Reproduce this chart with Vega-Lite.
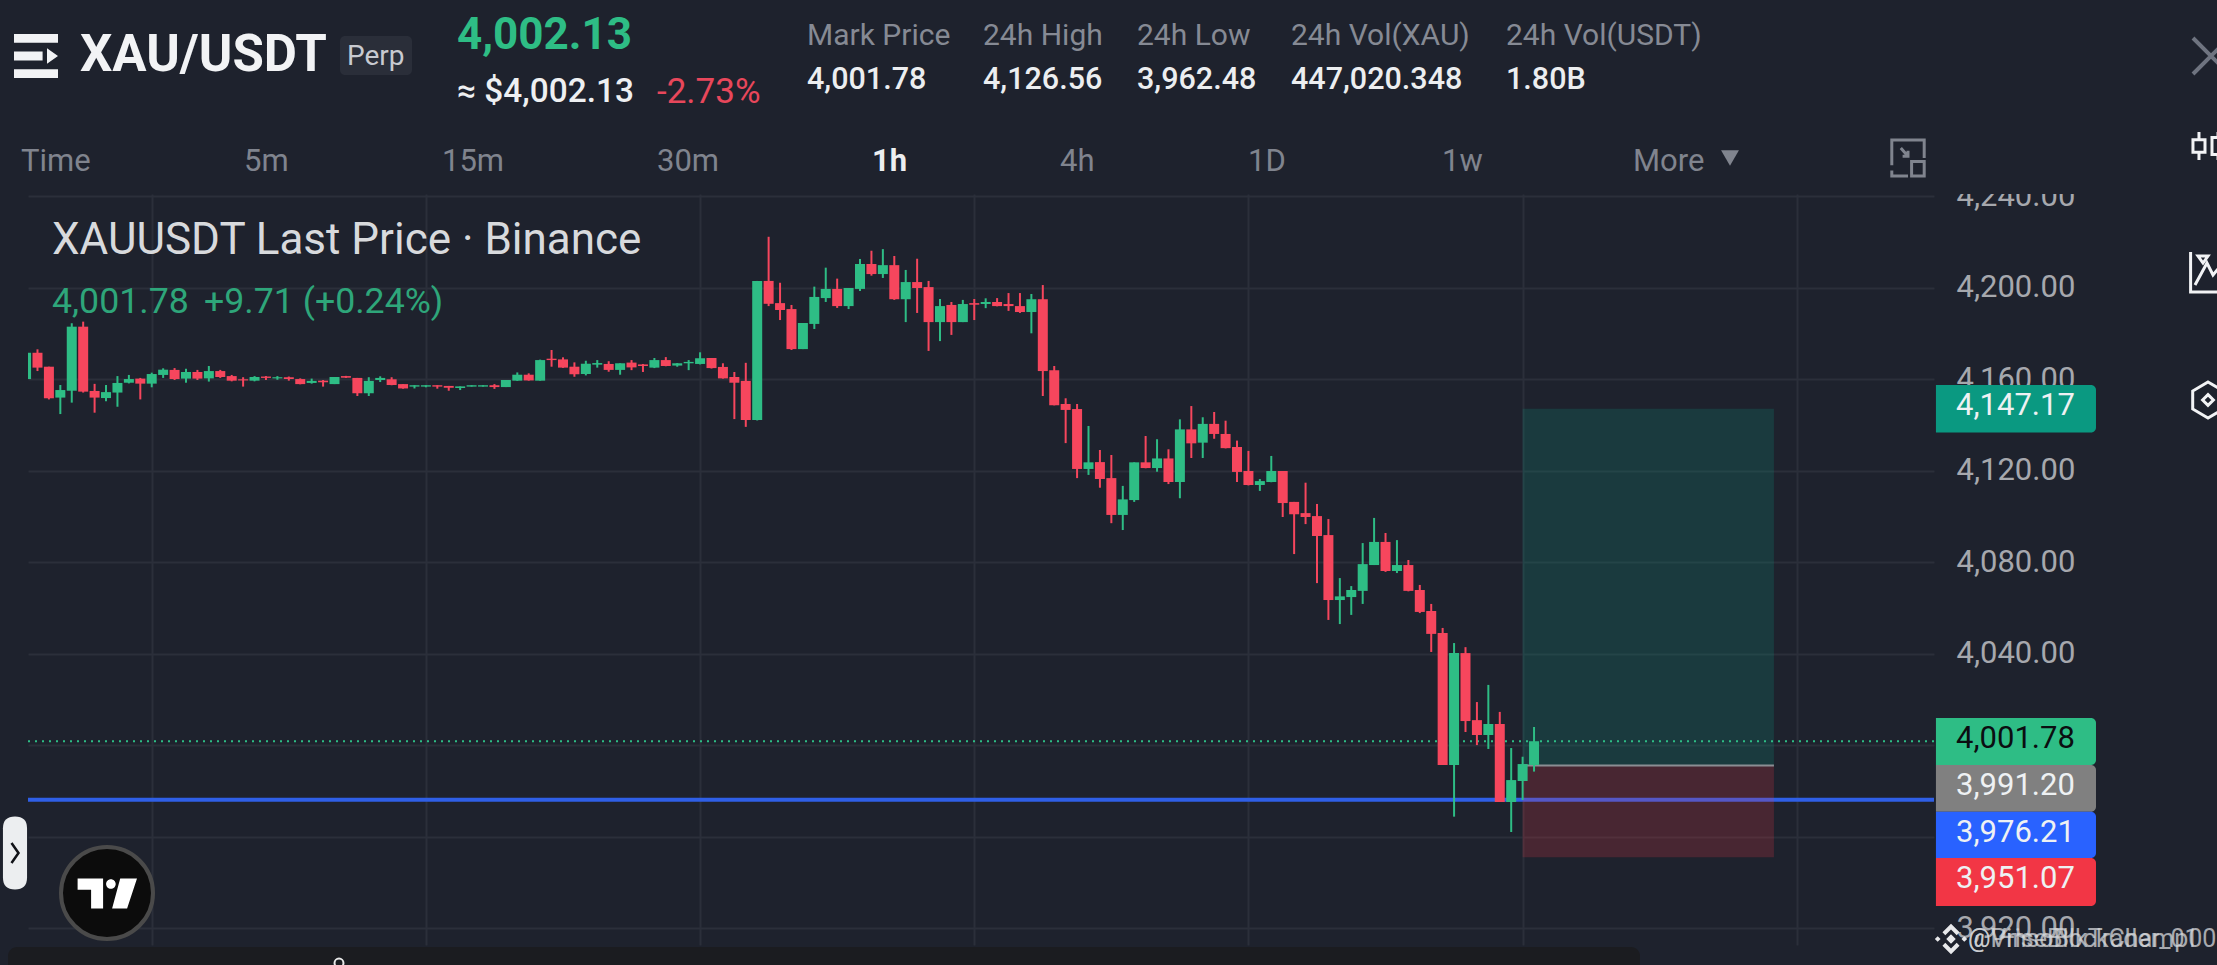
{
  "$schema": "https://vega.github.io/schema/vega-lite/v6.json",
  "autosize": {"type": "none"},
  "width": 1906,
  "height": 751,
  "padding": {"left": 28, "top": 194, "right": 283, "bottom": 20},
  "background": "#1e222d",
  "config": {"view": {"stroke": null}, "font": "Roboto", "text": {"font": "Roboto"}},
  "datasets": {
    "candles": [
      {"bar":-11,"open":4160.1,"high":4171.6,"low":4160.1,"close":4171.6},
      {"bar":-10,"open":4171.6,"high":4173.1,"low":4163.6,"close":4165.1},
      {"bar":-9,"open":4165.5,"high":4165.5,"low":4151.2,"close":4151.7},
      {"bar":-8,"open":4152,"high":4157.5,"low":4144.8,"close":4155.3},
      {"bar":-7,"open":4155,"high":4184.5,"low":4149.8,"close":4183},
      {"bar":-6,"open":4183,"high":4185.2,"low":4154.2,"close":4154.6},
      {"bar":-5,"open":4154.9,"high":4158,"low":4145.4,"close":4152},
      {"bar":-4,"open":4151.8,"high":4157.5,"low":4150.4,"close":4154.4},
      {"bar":-3,"open":4154.2,"high":4161.4,"low":4148,"close":4158.4},
      {"bar":-2,"open":4158.5,"high":4161.9,"low":4158.2,"close":4160.1},
      {"bar":-1,"open":4160.3,"high":4160.6,"low":4151.2,"close":4158.1},
      {"bar":0,"open":4158.1,"high":4162.9,"low":4156.5,"close":4162.3},
      {"bar":1,"open":4161.9,"high":4164.8,"low":4160.6,"close":4164.2},
      {"bar":2,"open":4164.1,"high":4164.9,"low":4159.7,"close":4160.1},
      {"bar":3,"open":4160.3,"high":4164.6,"low":4158.5,"close":4163.2},
      {"bar":4,"open":4163.2,"high":4164.1,"low":4159.7,"close":4160.3},
      {"bar":5,"open":4160.4,"high":4165.8,"low":4159,"close":4163.6},
      {"bar":6,"open":4163.6,"high":4164.1,"low":4160.6,"close":4161},
      {"bar":7,"open":4161.4,"high":4161.9,"low":4159.1,"close":4159.4},
      {"bar":8,"open":4160,"high":4160.9,"low":4156.8,"close":4159.5},
      {"bar":9,"open":4159.4,"high":4161.4,"low":4159.1,"close":4161},
      {"bar":10,"open":4161.2,"high":4161.4,"low":4159.7,"close":4160.6},
      {"bar":11,"open":4160.4,"high":4161.4,"low":4159.8,"close":4160.9},
      {"bar":12,"open":4160.9,"high":4161.2,"low":4159.4,"close":4160.1},
      {"bar":13,"open":4160.1,"high":4160.4,"low":4157.8,"close":4157.9},
      {"bar":14,"open":4158.4,"high":4160.3,"low":4158.1,"close":4159.3},
      {"bar":15,"open":4159.4,"high":4159.7,"low":4156.8,"close":4158.7},
      {"bar":16,"open":4157.9,"high":4161,"low":4157.9,"close":4161},
      {"bar":17,"open":4161.4,"high":4161.5,"low":4160.6,"close":4160.7},
      {"bar":18,"open":4160.6,"high":4160.6,"low":4152.7,"close":4153.9},
      {"bar":19,"open":4153.9,"high":4160.9,"low":4152.7,"close":4159.3},
      {"bar":20,"open":4159.7,"high":4161.3,"low":4158.8,"close":4160.6},
      {"bar":21,"open":4160,"high":4160.9,"low":4157.4,"close":4157.5},
      {"bar":22,"open":4157.9,"high":4157.9,"low":4155.9,"close":4156},
      {"bar":23,"open":4156.8,"high":4157.4,"low":4156,"close":4157.4},
      {"bar":24,"open":4156.8,"high":4157.4,"low":4156.5,"close":4157.4},
      {"bar":25,"open":4157.4,"high":4157.4,"low":4155.9,"close":4156.8},
      {"bar":26,"open":4157.1,"high":4157.1,"low":4155,"close":4156.3},
      {"bar":27,"open":4156.2,"high":4156.9,"low":4155.3,"close":4156.9},
      {"bar":28,"open":4156.8,"high":4157.4,"low":4156.8,"close":4157.4},
      {"bar":29,"open":4156.8,"high":4157.4,"low":4156.8,"close":4157.4},
      {"bar":30,"open":4157.4,"high":4157.9,"low":4155.8,"close":4156.6},
      {"bar":31,"open":4156.6,"high":4159.7,"low":4156.6,"close":4159.7},
      {"bar":32,"open":4159.4,"high":4163,"low":4159.3,"close":4162},
      {"bar":33,"open":4162,"high":4162.6,"low":4159.4,"close":4159.5},
      {"bar":34,"open":4159.4,"high":4168.6,"low":4159.4,"close":4168.4},
      {"bar":35,"open":4169,"high":4172.8,"low":4165.5,"close":4168.4},
      {"bar":36,"open":4168.7,"high":4169.6,"low":4165,"close":4165.1},
      {"bar":37,"open":4165.5,"high":4167.4,"low":4161.1,"close":4162.2},
      {"bar":38,"open":4162.3,"high":4168.1,"low":4161.7,"close":4166.8},
      {"bar":39,"open":4166.4,"high":4168.4,"low":4165.1,"close":4167.1},
      {"bar":40,"open":4166.7,"high":4167.9,"low":4163.3,"close":4164.1},
      {"bar":41,"open":4164.1,"high":4167,"low":4162,"close":4167},
      {"bar":42,"open":4167.3,"high":4168.4,"low":4164,"close":4165.2},
      {"bar":43,"open":4166.5,"high":4166.7,"low":4163.2,"close":4165.8},
      {"bar":44,"open":4165.1,"high":4169.3,"low":4164.9,"close":4168.4},
      {"bar":45,"open":4168.4,"high":4169.7,"low":4165.7,"close":4165.8},
      {"bar":46,"open":4166,"high":4167.1,"low":4165.5,"close":4167},
      {"bar":47,"open":4167,"high":4168.4,"low":4164,"close":4167.6},
      {"bar":48,"open":4166.7,"high":4171.8,"low":4166.5,"close":4169.2},
      {"bar":49,"open":4169.3,"high":4169.3,"low":4164.7,"close":4164.9},
      {"bar":50,"open":4165.4,"high":4167,"low":4160.3,"close":4160.4},
      {"bar":51,"open":4161,"high":4163.2,"low":4142.6,"close":4158.5},
      {"bar":52,"open":4159.3,"high":4167.2,"low":4139.2,"close":4142.2},
      {"bar":53,"open":4142.2,"high":4203,"low":4142,"close":4203},
      {"bar":54,"open":4203,"high":4222.3,"low":4192,"close":4193},
      {"bar":55,"open":4193.3,"high":4202.2,"low":4185.9,"close":4190.3},
      {"bar":56,"open":4190.7,"high":4192.5,"low":4172.8,"close":4173.2},
      {"bar":57,"open":4173.2,"high":4184.6,"low":4173.2,"close":4184.6},
      {"bar":58,"open":4184.2,"high":4200.5,"low":4182,"close":4196},
      {"bar":59,"open":4195.5,"high":4208.8,"low":4193.8,"close":4199.5},
      {"bar":60,"open":4199.5,"high":4204,"low":4191.2,"close":4192},
      {"bar":61,"open":4192,"high":4199.9,"low":4190.7,"close":4199.9},
      {"bar":62,"open":4199.5,"high":4212.6,"low":4198.6,"close":4210.4},
      {"bar":63,"open":4210.4,"high":4216.2,"low":4205.3,"close":4206},
      {"bar":64,"open":4206,"high":4216.9,"low":4204.3,"close":4209.9},
      {"bar":65,"open":4209.9,"high":4213.9,"low":4194.7,"close":4195},
      {"bar":66,"open":4195,"high":4207.8,"low":4185,"close":4202.5},
      {"bar":67,"open":4202.5,"high":4212.7,"low":4189,"close":4199.9},
      {"bar":68,"open":4200.3,"high":4203,"low":4172.4,"close":4185},
      {"bar":69,"open":4185,"high":4195.1,"low":4176.7,"close":4192},
      {"bar":70,"open":4192.5,"high":4193.8,"low":4179.4,"close":4185},
      {"bar":71,"open":4185,"high":4194.7,"low":4185,"close":4192.9},
      {"bar":72,"open":4193.3,"high":4195.1,"low":4185.9,"close":4192.6},
      {"bar":73,"open":4192.9,"high":4195.4,"low":4191.1,"close":4193.8},
      {"bar":74,"open":4193.8,"high":4195.5,"low":4191.9,"close":4192},
      {"bar":75,"open":4192.9,"high":4197.7,"low":4189.9,"close":4192},
      {"bar":76,"open":4192,"high":4197.7,"low":4189,"close":4189.4},
      {"bar":77,"open":4189.4,"high":4197.3,"low":4180.1,"close":4195},
      {"bar":78,"open":4195,"high":4201.2,"low":4152.7,"close":4163.6},
      {"bar":79,"open":4164,"high":4165.8,"low":4148.6,"close":4148.7},
      {"bar":80,"open":4149.2,"high":4151.7,"low":4132.1,"close":4146.6},
      {"bar":81,"open":4147,"high":4149.2,"low":4116.8,"close":4120.8},
      {"bar":82,"open":4120.8,"high":4139.6,"low":4118.2,"close":4123.7},
      {"bar":83,"open":4123.8,"high":4129.1,"low":4112.6,"close":4116.4},
      {"bar":84,"open":4116.8,"high":4126.9,"low":4097.1,"close":4100.7},
      {"bar":85,"open":4100.7,"high":4113.4,"low":4094.1,"close":4107.5},
      {"bar":86,"open":4107.2,"high":4123.7,"low":4106.4,"close":4123.7},
      {"bar":87,"open":4123.7,"high":4135.2,"low":4121.1,"close":4121.2},
      {"bar":88,"open":4121.2,"high":4133.8,"low":4119.6,"close":4125.4},
      {"bar":89,"open":4125.4,"high":4129.4,"low":4114.2,"close":4115.1},
      {"bar":90,"open":4115.1,"high":4142.5,"low":4108,"close":4138.1},
      {"bar":91,"open":4138.1,"high":4148.3,"low":4125.6,"close":4132},
      {"bar":92,"open":4132.3,"high":4143.4,"low":4125.6,"close":4140.5},
      {"bar":93,"open":4140.5,"high":4145.7,"low":4134,"close":4136.1},
      {"bar":94,"open":4136.1,"high":4141.9,"low":4129.8,"close":4129.9},
      {"bar":95,"open":4130.4,"high":4133.2,"low":4115.1,"close":4119.5},
      {"bar":96,"open":4119.9,"high":4128.7,"low":4113.6,"close":4113.8},
      {"bar":97,"open":4113.8,"high":4116.4,"low":4111.2,"close":4115.5},
      {"bar":98,"open":4115.1,"high":4126.5,"low":4115,"close":4119.9},
      {"bar":99,"open":4119.9,"high":4119.9,"low":4099.8,"close":4105.9},
      {"bar":100,"open":4106.4,"high":4106.4,"low":4083.6,"close":4101},
      {"bar":101,"open":4101.5,"high":4114.8,"low":4096.7,"close":4099.8},
      {"bar":102,"open":4100.2,"high":4105.5,"low":4070.9,"close":4091.5},
      {"bar":103,"open":4091.9,"high":4098.9,"low":4054.8,"close":4063.5},
      {"bar":104,"open":4063.5,"high":4073.1,"low":4053,"close":4065.1},
      {"bar":105,"open":4064.8,"high":4069.6,"low":4057,"close":4067.9},
      {"bar":106,"open":4067.5,"high":4088.4,"low":4061.8,"close":4079.2},
      {"bar":107,"open":4078.8,"high":4099.4,"low":4078.8,"close":4088.9},
      {"bar":108,"open":4088.9,"high":4092.8,"low":4075.8,"close":4076.2},
      {"bar":109,"open":4076.2,"high":4089.7,"low":4075.3,"close":4078.8},
      {"bar":110,"open":4078.8,"high":4081,"low":4067.3,"close":4067.5},
      {"bar":111,"open":4067.9,"high":4070.1,"low":4057.8,"close":4058.3},
      {"bar":112,"open":4058.7,"high":4061.8,"low":4040.8,"close":4048.7},
      {"bar":113,"open":4049.1,"high":4051.3,"low":3991.4,"close":3991.4},
      {"bar":114,"open":3991.4,"high":4044.7,"low":3968.8,"close":4040.3},
      {"bar":115,"open":4040.3,"high":4042.9,"low":4005.8,"close":4010.6},
      {"bar":116,"open":4011,"high":4018.9,"low":4000.1,"close":4004.5},
      {"bar":117,"open":4004.5,"high":4026.4,"low":3998.4,"close":4009.3},
      {"bar":118,"open":4009.3,"high":4014.6,"low":3975.2,"close":3975.2},
      {"bar":119,"open":3975.2,"high":3998.8,"low":3962.1,"close":3984.8},
      {"bar":120,"open":3984.4,"high":3995,"low":3976.1,"close":3991.8},
      {"bar":121,"open":3991.4,"high":4008,"low":3988.5,"close":4001.78}
    ],
    "tags": [
      {"kind":"target","price":4147.17,"top":4157.5,"bottom":4136.7},
      {"kind":"last","price":4001.78,"top":4011.9,"bottom":3991.4},
      {"kind":"entry","price":3991.2,"top":3991.4,"bottom":3971},
      {"kind":"level","price":3976.21,"top":3971,"bottom":3950.7},
      {"kind":"stop","price":3951.07,"top":3950.7,"bottom":3929.7}
    ],
    "zones": [
      {"kind":"target","start":120,"end":142,"from":3991.2,"to":4147.17},
      {"kind":"stop","start":120,"end":142,"from":3951.07,"to":3991.2}
    ],
    "labels": [
      {"text":"Mark Price","col":17,"line":2},
      {"text":"24h High","col":19,"line":2},
      {"text":"24h Low","col":21,"line":2},
      {"text":"24h Vol(XAU)","col":23,"line":2},
      {"text":"24h Vol(USDT)","col":25,"line":2}
    ],
    "values": [
      {"text":"4,001.78","col":17,"line":6},
      {"text":"4,126.56","col":19,"line":6},
      {"text":"3,962.48","col":21,"line":6},
      {"text":"447,020.348","col":23,"line":6},
      {"text":"1.80B","col":25,"line":6}
    ],
    "tabs": [
      {"text":"Time","col":3,"line":10},
      {"text":"5m","col":9,"line":10},
      {"text":"15m","col":14,"line":10},
      {"text":"30m","col":16,"line":10},
      {"text":"4h","col":20,"line":10},
      {"text":"1D","col":22,"line":10},
      {"text":"1w","col":24,"line":10},
      {"text":"More","col":26,"line":10}
    ]
  },
  "layer": [
    {
      "layer": [
        {
          "data": {"values": [{"price": 3976.21, "start": -10.83, "end": 156.01}]},
          "mark": {"type": "rule", "color": "#2f5fe6", "strokeWidth": 4},
          "encoding": {
            "x": {
              "field": "start",
              "type": "quantitative",
              "scale": {"domain": [-10.83, 156.01], "nice": false, "zero": false, "padding": 0},
              "axis": {"title": null, "values": [0, 24, 48, 72, 96, 120, 144], "grid": true, "gridColor": "#2b2f3a", "gridWidth": 2, "labels": false, "ticks": false, "domain": false}
            },
            "x2": {"field": "end"},
            "y": {
              "field": "price",
              "type": "quantitative",
              "scale": {"domain": [3912.7, 4241], "nice": false, "zero": false},
              "axis": {"title": null, "orient": "right", "values": [3920, 3960, 4000, 4040, 4080, 4120, 4160, 4200, 4240], "labelExpr": "datum.value == 3960 || datum.value == 4000 ? '' : format(datum.value, ',.2f')", "grid": true, "gridColor": "#2b2f3a", "gridWidth": 2, "ticks": false, "domain": false, "labelColor": "#a6a8ad", "labelFont": "Roboto", "labelFontSize": 31, "labelPadding": 22, "labelBound": false, "labelFlush": false, "labelOverlap": false}
            }
          }
        },
        {
          "data": {"name": "zones"},
          "mark": {"type": "rect", "opacity": 0.2, "clip": true},
          "encoding": {
            "x": {"field": "start", "type": "quantitative", "title": null},
            "x2": {"field": "end"},
            "y": {"field": "from", "type": "quantitative", "title": null},
            "y2": {"field": "to"},
            "color": {"field": "kind", "type": "nominal", "legend": null, "scale": {"domain": ["target", "stop"], "range": ["#089981", "#f23645"]}}
          }
        },
        {
          "data": {"values": [{"price": 3991.2, "start": 120, "end": 142}]},
          "mark": {"type": "rule", "color": "#8a8d93", "strokeWidth": 2},
          "encoding": {
            "x": {"field": "start", "type": "quantitative", "title": null},
            "x2": {"field": "end"},
            "y": {"field": "price", "type": "quantitative", "title": null}
          }
        },
        {
          "data": {"values": [{"price": 4001.78}]},
          "mark": {"type": "rule", "color": "#2ebd85", "strokeWidth": 2, "strokeDash": [2, 5]},
          "encoding": {"y": {"field": "price", "type": "quantitative", "title": null}}
        },
        {
          "data": {"name": "candles"},
          "mark": {"type": "rule", "strokeWidth": 2, "clip": true},
          "encoding": {
            "x": {"field": "bar", "type": "quantitative", "title": null},
            "y": {"field": "low", "type": "quantitative", "title": null},
            "y2": {"field": "high"},
            "color": {"condition": {"test": "datum.close >= datum.open", "value": "#2ebd85"}, "value": "#f6465d"}
          }
        },
        {
          "data": {"name": "candles"},
          "mark": {"type": "bar", "size": 10, "clip": true},
          "encoding": {
            "x": {"field": "bar", "type": "quantitative", "title": null},
            "y": {"field": "open", "type": "quantitative", "title": null},
            "y2": {"field": "close"},
            "color": {"condition": {"test": "datum.close >= datum.open", "value": "#2ebd85"}, "value": "#f6465d"}
          }
        },
        {
          "data": {"name": "tags"},
          "mark": {"type": "rect", "cornerRadiusTopRight": 5, "cornerRadiusBottomRight": 5},
          "encoding": {
            "x": {"datum": 156.18, "type": "quantitative", "title": null},
            "x2": {"datum": 170.19},
            "y": {"field": "top", "type": "quantitative", "title": null},
            "y2": {"field": "bottom"},
            "fill": {"field": "kind", "type": "nominal", "legend": null, "scale": {"domain": ["target", "last", "entry", "level", "stop"], "range": ["#0a9981", "#2ebd85", "#808080", "#2962ff", "#f23645"]}}
          }
        },
        {
          "data": {"name": "tags"},
          "mark": {"type": "text", "font": "Roboto", "fontSize": 31, "align": "left", "baseline": "middle", "dy": 21},
          "encoding": {
            "x": {"datum": 157.94, "type": "quantitative", "title": null},
            "y": {"field": "top", "type": "quantitative", "title": null},
            "text": {"field": "price", "type": "quantitative", "format": ",.2f"},
            "color": {"condition": {"test": "datum.kind === 'last'", "value": "#0b0e11"}, "value": "#eef1f3"}
          }
        }
      ]
    },
    {
      "encoding": {
        "x": {
          "field": "col",
          "type": "quantitative",
          "axis": null,
          "scale": {
            "domain": [0,1,2,3,4,5,6,7,8,9,10,11,12,13,14,15,16,17,18,19,20,21,22,23,24,25,26,27,28,29,30,31,32,33,34,35],
            "range": [-28,-20,-13,-7,8,24,52,79,176,216,311,312,319,384,414,429,629,779,844,955,1032,1109,1220,1263,1414,1478,1605,1612,1702,1880,1923,1940,2177,2180,2183,2189]
          }
        },
        "y": {
          "field": "line",
          "type": "quantitative",
          "axis": null,
          "scale": {
            "domain": [0,1,2,3,4,5,6,7,8,9,10,11,12,13,14,15,16,17,18,19,20,21],
            "range": [-194,-158,-158,-138,-137,-119,-114,-102,-48,-36,-32,0,47,78,108,206,659,699,745,753,769,771]
          }
        }
      },
      "layer": [
        {
          "data": {"values": [{"col": 0, "col2": 35, "line": 0, "line2": 11}]},
          "mark": {"type": "rect", "color": "#1e222d"},
          "encoding": {"x2": {"field": "col2"}, "y2": {"field": "line2"}}
        },
        {
          "data": {"values": [{"col": 1, "col2": 27, "line": 19, "line2": 21}]},
          "mark": {"type": "rect", "color": "#1b1c20", "cornerRadiusTopLeft": 10, "cornerRadiusTopRight": 10},
          "encoding": {"x2": {"field": "col2"}, "y2": {"field": "line2"}}
        },
        {
          "data": {"values": [{"col": 11, "col2": 13, "line": 2, "line2": 5}]},
          "mark": {"type": "rect", "color": "#2a2e39", "cornerRadius": 5},
          "encoding": {"x2": {"field": "col2"}, "y2": {"field": "line2"}}
        },
        {
          "data": {"values": [{"name": "menu", "col": 4, "line": 3}]},
          "mark": {"type": "point", "filled": true, "opacity": 1, "color": "#f2f3f5", "size": 1936, "shape": "M-1,-1H1V-.6H-1ZM-1,-.2H.3V.2H-1ZM.5,-.35L1,0L.5,.35ZM-1,.6H1V1H-1Z"}
        },
        {
          "data": {"values": [{"text": "XAU/USDT", "col": 6, "line": 3}]},
          "mark": {"type": "text", "font": "Roboto", "fontWeight": 700, "fontSize": 51, "align": "left", "baseline": "middle", "color": "#f2f3f5"},
          "encoding": {"text": {"field": "text"}}
        },
        {
          "data": {"values": [{"text": "Perp", "col": 12, "line": 4}]},
          "mark": {"type": "text", "font": "Roboto", "fontSize": 28, "align": "left", "baseline": "middle", "color": "#c8cad0"},
          "encoding": {"text": {"field": "text"}}
        },
        {
          "data": {"values": [{"text": "4,002.13", "col": 15, "line": 1}]},
          "mark": {"type": "text", "font": "Roboto", "fontWeight": 700, "fontSize": 44, "align": "left", "baseline": "middle", "color": "#2ebd85"},
          "encoding": {"text": {"field": "text"}}
        },
        {
          "data": {"values": [{"text": "≈ $4,002.13", "col": 15, "line": 7}]},
          "mark": {"type": "text", "font": "Roboto", "fontWeight": 500, "fontSize": 33.4, "align": "left", "baseline": "middle", "color": "#eef0f2"},
          "encoding": {"text": {"field": "text"}}
        },
        {
          "data": {"values": [{"text": "-2.73%", "col": 16, "line": 7}]},
          "mark": {"type": "text", "font": "Roboto", "fontSize": 35, "align": "left", "baseline": "middle", "color": "#e8475b"},
          "encoding": {"text": {"field": "text"}}
        },
        {
          "data": {"name": "labels"},
          "mark": {"type": "text", "font": "Roboto", "fontSize": 30, "align": "left", "baseline": "middle", "color": "#868a94"},
          "encoding": {"text": {"field": "text"}}
        },
        {
          "data": {"name": "values"},
          "mark": {"type": "text", "font": "Roboto", "fontWeight": 500, "fontSize": 30.5, "align": "left", "baseline": "middle", "color": "#eceef0"},
          "encoding": {"text": {"field": "text"}}
        },
        {
          "data": {"name": "tabs"},
          "mark": {"type": "text", "font": "Roboto", "fontSize": 31, "align": "left", "baseline": "middle", "color": "#80848e"},
          "encoding": {"text": {"field": "text"}}
        },
        {
          "data": {"values": [{"text": "1h", "col": 18, "line": 10}]},
          "mark": {"type": "text", "font": "Roboto", "fontWeight": 700, "fontSize": 31, "align": "left", "baseline": "middle", "color": "#eceef0"},
          "encoding": {"text": {"field": "text"}}
        },
        {
          "data": {"values": [{"name": "more", "col": 28, "line": 9}]},
          "mark": {"type": "point", "filled": true, "opacity": 1, "color": "#80848e", "size": 320, "shape": "triangle-down"}
        },
        {
          "data": {"values": [{"name": "layout", "col": 29, "line": 9}]},
          "mark": {"type": "point", "filled": false, "opacity": 1, "color": "#80848e", "strokeWidth": 3, "size": 1296, "shape": "M-.9,.4V-1H.9V0M-.9,.7V1H0M-.4,-.55L0,-.1M0,-.4V-.1H-.3M.2,.2H.9V1H.2Z"}
        },
        {
          "data": {"values": [{"name": "close", "col": 34, "line": 3}]},
          "mark": {"type": "point", "filled": false, "opacity": 1, "color": "#6f7480", "strokeWidth": 4, "size": 1296, "shape": "M-1,-1L1,1M-1,1L1,-1"}
        },
        {
          "data": {"values": [{"name": "candles", "col": 32, "line": 8}]},
          "mark": {"type": "point", "filled": false, "opacity": 1, "color": "#f2f3f5", "strokeWidth": 3, "size": 784, "shape": "M-.86,-.45H0V.45H-.86ZM-.43,-1V-.45M-.43,.45V1M.5,-.6H1.3V.6H.5ZM.93,-1V-.6M.93,.6V1"}
        },
        {
          "data": {"values": [{"name": "chart", "col": 32, "line": 13}]},
          "mark": {"type": "point", "filled": false, "opacity": 1, "color": "#f2f3f5", "strokeWidth": 3, "size": 1600, "shape": "M-.72,-1V1H1.2M-.5,.65L.1,-.45L.4,.15L.65,-.15M-.35,-.8H.15L-.1,-.45Z"}
        },
        {
          "data": {"values": [{"name": "hex", "col": 33, "line": 15}]},
          "mark": {"type": "point", "filled": false, "opacity": 1, "color": "#f2f3f5", "strokeWidth": 3, "size": 1296, "shape": "M0,-1L.85,-.5V.5L0,1L-.85,.5V-.5ZM0,-.3L.3,0L0,.3L-.3,0Z"}
        },
        {
          "data": {"values": [{"text": "XAUUSDT Last Price · Binance", "col": 5, "line": 12}]},
          "mark": {"type": "text", "font": "Roboto", "fontSize": 44, "align": "left", "baseline": "middle", "color": "#d8dadd"},
          "encoding": {"text": {"field": "text"}}
        },
        {
          "data": {"values": [{"text": "4,001.78", "col": 5, "line": 14}, {"text": "+9.71 (+0.24%)", "col": 8, "line": 14}]},
          "mark": {"type": "text", "font": "Roboto", "fontSize": 35.7, "align": "left", "baseline": "middle", "color": "#2ea67a"},
          "encoding": {"text": {"field": "text"}}
        },
        {
          "data": {"values": [{"name": "drawer", "col": 2, "line": 16}]},
          "mark": {"type": "point", "filled": true, "opacity": 1, "color": "#eceef0", "size": 5329, "shape": "M-.33,-.68Q-.33,-1 0,-1Q.33,-1 .33,-.68V.68Q.33,1 0,1Q-.33,1 -.33,.68Z"}
        },
        {
          "data": {"values": [{"name": "chevron", "col": 2, "line": 16}]},
          "mark": {"type": "point", "filled": false, "opacity": 1, "color": "#111318", "strokeWidth": 2.5, "size": 400, "shape": "M-.35,-1L.35,0L-.35,1"}
        },
        {
          "data": {"values": [{"name": "tv", "col": 7, "line": 17}]},
          "mark": {"type": "point", "filled": true, "opacity": 1, "color": "#0c0c0c", "stroke": "#4a4a4a", "strokeWidth": 4, "size": 8464, "shape": "circle"}
        },
        {
          "data": {"values": [{"name": "tvmark", "col": 7, "line": 17}]},
          "mark": {"type": "point", "filled": true, "opacity": 1, "color": "#ffffff", "size": 3600, "shape": "M-.98,-.48H-.13V.52H-.53V-.11H-.98ZM-.03,-.3a.16,.16 0 1,0 .32,0a.16,.16 0 1,0 -.32,0ZM.44,-.48H1L.67,.52H.17Z"}
        },
        {
          "data": {"values": [{"name": "dot", "col": 10, "line": 20}]},
          "mark": {"type": "point", "filled": false, "opacity": 1, "color": "#e8e8e8", "strokeWidth": 2, "size": 80, "shape": "circle"}
        },
        {
          "data": {"values": [{"name": "binance", "col": 30, "line": 18}]},
          "mark": {"type": "point", "filled": true, "opacity": 1, "color": "#e8e9eb", "size": 1444, "shape": "M0,-.25L.25,0L0,.25L-.25,0ZM-.7,-.15L-.55,0L-.7,.15L-.85,0ZM.7,-.15L.85,0L.7,.15L.55,0ZM0,-.8L.45,-.35L.3,-.2L0,-.5L-.3,-.2L-.45,-.35ZM0,.8L.45,.35L.3,.2L0,.5L-.3,.2L-.45,.35Z"}
        },
        {
          "data": {"values": [{"text": "@VinsoBlkTrader_01", "col": 31, "line": 18}, {"text": "@PriseBlockChamp00", "col": 31, "line": 18}]},
          "mark": {"type": "text", "font": "Roboto", "fontSize": 25, "align": "left", "baseline": "middle", "color": "#d5d7da", "opacity": 0.75},
          "encoding": {"text": {"field": "text"}}
        }
      ]
    }
  ],
  "resolve": {"scale": {"x": "independent", "y": "independent", "color": "independent", "fill": "independent"}}
}
